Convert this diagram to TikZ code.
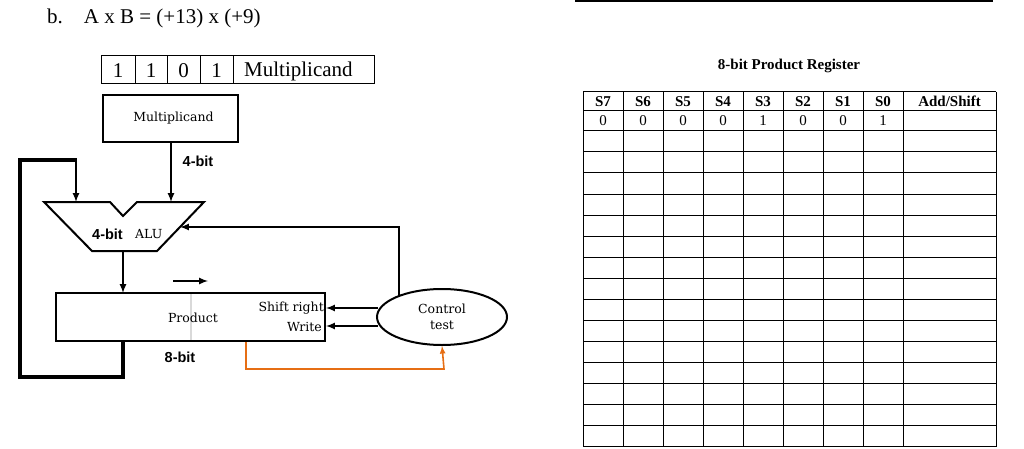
\documentclass[tikz,border=0pt]{standalone}
\usepackage{fontspec}
\usetikzlibrary{shapes.geometric}
\newfontfamily\tnr{Liberation Serif}
\newfontfamily\ari{Liberation Sans}
\newfontfamily\dvs{DejaVu Serif}
\begin{document}
\begin{tikzpicture}[x=1pt,y=-1pt,
  thick line/.style={line width=3.5pt},
  med/.style={line width=2pt},
  arr/.style={-latex},
  lbl/.style={font=\ari\bfseries\fontsize{14.5}{14.5}\selectfont, inner sep=0pt},
  cmtext/.style={font=\dvs\fontsize{12.5}{12.5}\selectfont, inner sep=0pt}]
\useasboundingbox (0,0) rectangle (1024,449);
% title
\node[anchor=west, font=\tnr\fontsize{21}{21}\selectfont, inner sep=0] (title) at (47,18) {b.\quad A x B = (+13) x (+9)};
% top partial table
\draw[line width=1.2pt] (575,1) -- (993,1);
\foreach \x in {619,659,698,738,778,818,858,898} \draw (\x,0) -- (\x,1);
% bits box
\draw[line width=1pt] (101,56) rectangle (374,84);
\foreach \x in {135,167,200,233} \draw[line width=1pt] (\x,56) -- (\x,84);
\foreach \t/\x in {1/118,1/151,0/183.5,1/216.5} \node[font=\tnr\fontsize{21}{21}\selectfont] at (\x,71) {\t};
\node[font=\tnr\fontsize{21}{21}\selectfont, anchor=west, inner sep=0] (mc) at (244,71) {Multiplicand};
% multiplicand box
\node[draw, med, minimum width=135pt, minimum height=47pt, cmtext] (mult) at (170.5,118.5) {\hspace{6pt}Multiplicand};
% ALU
\draw[med] (44,202) -- (110,202) -- (123,216) -- (137,202) -- (204,202) -- (157,251) -- (92,251) -- cycle;
\coordinate (aluTopR) at (171,202);
\coordinate (aluTopL) at (76,202);
\coordinate (aluR) at (180,227);
\coordinate (aluBot) at (123,251);
\node[lbl, anchor=west] (alul) at (92,234) {4-bit};
\node[cmtext, anchor=west] (alul2) at (135,234) {ALU};
\draw[med,arr] (mult.south -| aluTopR) -- (aluTopR);
\node[lbl] (b4) at (198,161) {4-bit};
% product
\node[draw, med, minimum width=269pt, minimum height=48pt] (prod) at (190.5,317) {};
\draw[gray!30, line width=1.5pt] (191,294) -- (191,340);
\node[cmtext] (pl) at (193,318) {Product};
\node[cmtext, anchor=east] (sr) at (324,308) {Shift right};
\node[cmtext, anchor=east] (wr) at (322,327) {Write};
\draw[med,arr] (aluBot) -- (123,293);
\draw[med,arr] (173,281) -- (208,281);
\node[lbl] (b8) at (180,357) {8-bit};
% loop
\draw[thick line] (123,341) -- (123,377) -- (20,377) -- (20,160) -- (77,160);
\draw[med,arr] (76,159) -- (aluTopL);
% control
\node[draw, med, ellipse, minimum width=130pt, minimum height=56pt, align=center, cmtext] (ctl) at (442,317) {Control\\[4pt]test};
\draw[med,arr] (399,296) -- (399,227) -- (aluR);
\draw[med,arr] (378,308) -- (326,308);
\draw[med,arr] (378,326) -- (326,326);
\draw[line width=1.6pt, color={rgb,255:red,230;green,110;blue,20}, arr] (246,342) -- (246,369) -- (444,369) -- (ctl.south);
% right table
\node[font=\tnr\bfseries\fontsize{15}{15}\selectfont] (tt) at (789,66) {8-bit Product Register};
\def\cols{583,623,663,703,743,783,823,863,903,996}
\draw[line width=1pt] (583,92) -- (996,92);
\draw[line width=1pt] (583,111) -- (996,111);
\foreach \i in {0,...,15} \draw[line width=1pt] (583,131+21*\i) -- (996,131+21*\i);
\foreach \x in \cols \draw[line width=1pt] (\x,92) -- (\x,447);
\foreach \t [count=\i from 0] in {S7,S6,S5,S4,S3,S2,S1,S0} {
  \node[font=\tnr\bfseries\fontsize{15}{15}\selectfont] at (603+40*\i,101.5) {\t};}
\node[font=\tnr\bfseries\fontsize{15}{15}\selectfont] at (949.5,101.5) {Add/Shift};
\foreach \t [count=\i from 0] in {0,0,0,0,1,0,0,1} {
  \node[font=\tnr\fontsize{15}{15}\selectfont] at (603+40*\i,121) {\t};}
\end{tikzpicture}
\end{document}
